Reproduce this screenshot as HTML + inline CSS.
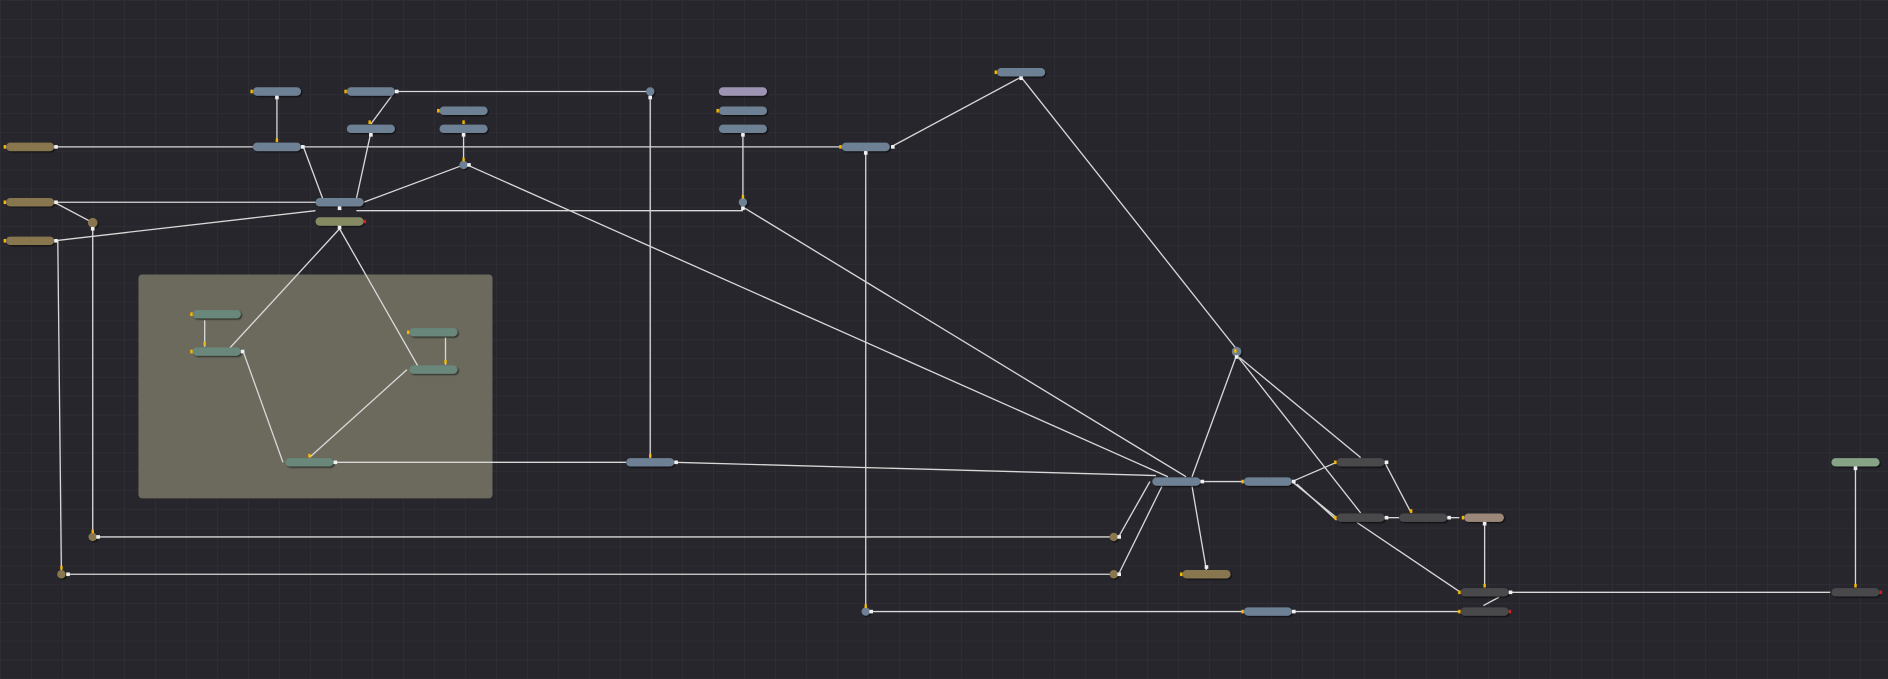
<!DOCTYPE html>
<html><head><meta charset="utf-8"><style>
html,body{margin:0;padding:0;width:1888px;height:679px;overflow:hidden;background:#26262c;
background-image:linear-gradient(to right,#2d2d33 1px,transparent 1px),linear-gradient(to bottom,#2d2d33 1px,transparent 1px);
background-size:31px 18.85px;}
svg{position:absolute;left:0;top:0}
</style></head><body>
<svg width="1888" height="679" viewBox="0 0 1568 564" preserveAspectRatio="none">
<defs>
<filter id="sh"><feDropShadow dx="1" dy="1" stdDeviation="0.6" flood-color="#000" flood-opacity="0.6"/></filter>
</defs>
<rect x="115" y="228" width="294" height="186" rx="3" fill="#6b6a5d"/>
<g stroke="#d8d8d8" stroke-width="1.1" fill="none">
<line x1="45" y1="122" x2="210" y2="122"/>
<line x1="250" y1="122" x2="699" y2="122"/>
<line x1="45" y1="168" x2="262" y2="168"/>
<line x1="45" y1="168" x2="77" y2="185"/>
<line x1="45" y1="200" x2="262" y2="175"/>
<line x1="48" y1="200" x2="51" y2="477"/>
<line x1="77" y1="185" x2="77" y2="446"/>
<line x1="80" y1="446" x2="922" y2="446"/>
<line x1="55" y1="477" x2="922" y2="477"/>
<line x1="230" y1="80" x2="230" y2="118"/>
<line x1="252" y1="122" x2="268" y2="165"/>
<line x1="328" y1="76" x2="540" y2="76"/>
<line x1="328" y1="76" x2="308" y2="103"/>
<line x1="308" y1="110" x2="296" y2="165"/>
<line x1="385" y1="110" x2="385" y2="134"/>
<line x1="302" y1="168" x2="385" y2="137"/>
<line x1="388" y1="137" x2="970" y2="396"/>
<line x1="296" y1="175" x2="617" y2="175"/>
<line x1="617" y1="110" x2="617" y2="165"/>
<line x1="617" y1="172" x2="985" y2="396"/>
<line x1="540" y1="80" x2="540" y2="382"/>
<line x1="740" y1="122" x2="848" y2="64"/>
<line x1="848" y1="64" x2="1027" y2="290"/>
<line x1="719" y1="125" x2="719" y2="505"/>
<line x1="722" y1="508" x2="1033" y2="508"/>
<line x1="1073" y1="508" x2="1213" y2="508"/>
<line x1="282" y1="190" x2="190" y2="290"/>
<line x1="282" y1="190" x2="347" y2="304"/>
<line x1="170" y1="266" x2="170" y2="288"/>
<line x1="370" y1="280" x2="370" y2="303"/>
<line x1="202" y1="292" x2="235" y2="384"/>
<line x1="338" y1="307" x2="257" y2="380"/>
<line x1="277" y1="384" x2="520" y2="384"/>
<line x1="560" y1="384" x2="960" y2="395"/>
<line x1="929" y1="446" x2="955" y2="400"/>
<line x1="929" y1="477" x2="965" y2="404"/>
<line x1="1027" y1="295" x2="990" y2="396"/>
<line x1="1027" y1="295" x2="1130" y2="380"/>
<line x1="1027" y1="295" x2="1130" y2="426"/>
<line x1="997" y1="400" x2="1033" y2="400"/>
<line x1="1073" y1="400" x2="1110" y2="384"/>
<line x1="1073" y1="400" x2="1110" y2="430"/>
<line x1="1077" y1="402" x2="1110" y2="432"/>
<line x1="1127" y1="434" x2="1213" y2="492"/>
<line x1="1150" y1="384" x2="1172" y2="426"/>
<line x1="1150" y1="430" x2="1162" y2="430"/>
<line x1="1202" y1="430" x2="1212" y2="430"/>
<line x1="1233" y1="434" x2="1233" y2="488"/>
<line x1="1253" y1="492" x2="1520" y2="492"/>
<line x1="1541" y1="388" x2="1541" y2="488"/>
<line x1="1245" y1="496" x2="1232" y2="503"/>
<line x1="990" y1="404" x2="1002" y2="474"/>
</g>
<g filter="url(#sh)">
<g fill="#887650">
<rect x="5" y="118.5" width="40" height="7" rx="3.5"/>
<rect x="5" y="164.5" width="40" height="7" rx="3.5"/>
<rect x="5" y="196.5" width="40" height="7" rx="3.5"/>
<rect x="982" y="473.5" width="40" height="7" rx="3.5"/>
<circle cx="77" cy="185" r="4"/><circle cx="77" cy="446" r="3.5"/><circle cx="51" cy="477" r="3.5"/>
<circle cx="925" cy="446" r="3.5"/><circle cx="925" cy="477" r="3.5"/>
</g>
<g fill="#6e8094">
<rect x="210" y="72.5" width="40" height="7" rx="3.5"/>
<rect x="288" y="72.5" width="40" height="7" rx="3.5"/>
<rect x="365" y="88.5" width="40" height="7" rx="3.5"/>
<rect x="365" y="103.5" width="40" height="7" rx="3.5"/>
<rect x="288" y="103.5" width="40" height="7" rx="3.5"/>
<rect x="597" y="88.5" width="40" height="7" rx="3.5"/>
<rect x="597" y="103.5" width="40" height="7" rx="3.5"/>
<rect x="828" y="56.5" width="40" height="7" rx="3.5"/>
<rect x="210" y="118.5" width="40" height="7" rx="3.5"/>
<rect x="262" y="164.5" width="40" height="7" rx="3.5"/>
<rect x="699" y="118.5" width="40" height="7" rx="3.5"/>
<rect x="520" y="380.5" width="40" height="7" rx="3.5"/>
<rect x="957" y="396.5" width="40" height="7" rx="3.5"/>
<rect x="1033" y="396.5" width="40" height="7" rx="3.5"/>
<rect x="1033" y="504.5" width="40" height="7" rx="3.5"/>
<circle cx="385" cy="137" r="3.5"/><circle cx="540" cy="76" r="3.5"/><circle cx="617" cy="168" r="3.5"/>
<circle cx="1027" cy="292" r="4"/><circle cx="719" cy="508" r="3.5"/>
</g>
<rect x="597" y="72.5" width="40" height="7" rx="3.5" fill="#9c94b2"/>
<rect x="262" y="180.5" width="40" height="7" rx="3.5" fill="#868a62"/>
<g fill="#6b877c">
<rect x="160" y="257.5" width="40" height="7" rx="3.5"/>
<rect x="160" y="288.5" width="40" height="7" rx="3.5"/>
<rect x="340" y="272.5" width="40" height="7" rx="3.5"/>
<rect x="340" y="303.5" width="40" height="7" rx="3.5"/>
<rect x="237" y="380.5" width="40" height="7" rx="3.5"/>
</g>
<g fill="#4a4a4c">
<rect x="1110" y="380.5" width="40" height="7" rx="3.5"/>
<rect x="1110" y="426.5" width="40" height="7" rx="3.5"/>
<rect x="1162" y="426.5" width="40" height="7" rx="3.5"/>
<rect x="1213" y="488.5" width="40" height="7" rx="3.5"/>
<rect x="1213" y="504.5" width="40" height="7" rx="3.5"/>
<rect x="1521" y="488.5" width="40" height="7" rx="3.5"/>
</g>
<rect x="1216" y="426.5" width="33" height="7" rx="3.5" fill="#9c8878"/>
<rect x="1521" y="380.5" width="40" height="7" rx="3.5" fill="#86a386"/>
</g>
<g fill="#f0f0f0">
<rect x="45" y="120.5" width="3" height="3"/><rect x="45" y="166.5" width="3" height="3"/><rect x="45" y="198.5" width="3" height="3"/>
<rect x="250" y="120.5" width="3" height="3"/><rect x="328" y="74.5" width="3" height="3"/><rect x="740" y="120.5" width="3" height="3"/>
<rect x="560" y="382.5" width="3" height="3"/><rect x="277" y="382.5" width="3" height="3"/><rect x="200" y="290.5" width="3" height="3"/>
<rect x="997" y="398.5" width="3" height="3"/><rect x="1073" y="398.5" width="3" height="3"/><rect x="1073" y="506.5" width="3" height="3"/>
<rect x="1150" y="382.5" width="3" height="3"/><rect x="1150" y="428.5" width="3" height="3"/><rect x="1202" y="428.5" width="3" height="3"/>
<rect x="1253" y="490.5" width="3" height="3"/><rect x="1231.5" y="433.5" width="3" height="3"/><rect x="1539.5" y="387.5" width="3" height="3"/>
<rect x="1000.5" y="469.5" width="3" height="3"/><rect x="280.5" y="171.5" width="3" height="3"/><rect x="280.5" y="187.5" width="3" height="3"/>
<rect x="228.5" y="79.5" width="3" height="3"/><rect x="306.5" y="110.5" width="3" height="3"/><rect x="383.5" y="110.5" width="3" height="3"/>
<rect x="615.5" y="110.5" width="3" height="3"/><rect x="538.5" y="79.5" width="3" height="3"/><rect x="846.5" y="63.5" width="3" height="3"/>
<rect x="717.5" y="125.5" width="3" height="3"/><rect x="722" y="506.5" width="3" height="3"/><rect x="80" y="444.5" width="3" height="3"/>
<rect x="55" y="475.5" width="3" height="3"/><rect x="75.5" y="188.5" width="3" height="3"/><rect x="928" y="444.5" width="3" height="3"/>
<rect x="928" y="475.5" width="3" height="3"/><rect x="388" y="135.5" width="3" height="3"/><rect x="615.5" y="171.5" width="3" height="3"/>
<rect x="1025.5" y="295" width="3" height="3"/>
</g>
<g fill="#f5b800">
<rect x="3" y="120.5" width="2" height="3"/><rect x="3" y="166.5" width="2" height="3"/><rect x="3" y="198.5" width="2" height="3"/>
<rect x="208" y="74.5" width="2" height="3"/><rect x="286" y="74.5" width="2" height="3"/><rect x="363" y="90.5" width="2" height="3"/>
<rect x="595" y="90.5" width="2" height="3"/><rect x="826" y="58.5" width="2" height="3"/><rect x="697" y="120.5" width="2" height="3"/>
<rect x="980" y="475.5" width="2" height="3"/><rect x="1031" y="506.5" width="2" height="3"/><rect x="1031" y="398.5" width="2" height="3"/>
<rect x="1108" y="382.5" width="2" height="3"/><rect x="1108" y="428.5" width="2" height="3"/><rect x="1211" y="490.5" width="2" height="3"/>
<rect x="1211" y="506.5" width="2" height="3"/><rect x="1214" y="428.5" width="2" height="3"/><rect x="158" y="259.5" width="2" height="3"/>
<rect x="158" y="290.5" width="2" height="3"/><rect x="338" y="274.5" width="2" height="3"/><rect x="229" y="115" width="2" height="3"/>
<rect x="306" y="100" width="2" height="3"/><rect x="384" y="100" width="2" height="3"/><rect x="384" y="131" width="2" height="3"/>
<rect x="616" y="162" width="2" height="3"/><rect x="539" y="377" width="2" height="3"/><rect x="718" y="502" width="2" height="3"/>
<rect x="1540" y="485" width="2" height="3"/><rect x="1232" y="485" width="2" height="3"/><rect x="1171" y="423" width="2" height="3"/>
<rect x="169" y="284" width="2" height="3"/><rect x="369" y="299" width="2" height="3"/><rect x="256" y="377" width="2" height="3"/>
<rect x="50" y="470" width="2" height="3"/><rect x="76" y="440" width="2" height="3"/><rect x="1025" y="290" width="2" height="3"/>
</g>
<g fill="#d02020"><rect x="302" y="182.5" width="2" height="3"/><rect x="1253" y="506.5" width="2" height="3"/><rect x="1561" y="490.5" width="2" height="3"/></g>
</svg>
</body></html>
